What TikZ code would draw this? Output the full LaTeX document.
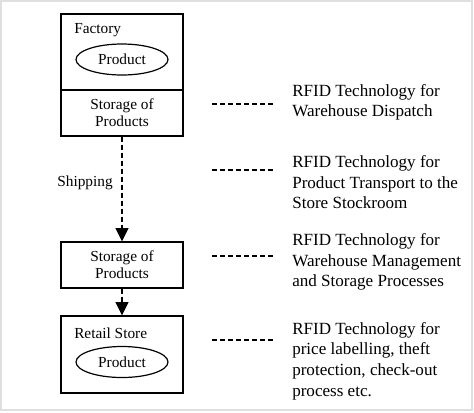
\documentclass[tikz,border=0pt]{standalone}
\usepackage{fontspec}
\setmainfont{Liberation Serif}
\usetikzlibrary{arrows.meta,shapes.geometric}
\tikzset{
  boxpart/.style={draw,line width=1pt,minimum width=91.5pt,inner sep=0pt,font=\fontsize{11.5}{12.8}\selectfont,align=center},
  prod/.style={draw,ellipse,line width=0.9pt,minimum width=69pt,minimum height=23.25pt,inner sep=0pt,font=\fontsize{11.5}{12.8}\selectfont},
  lbl/.style={inner sep=0pt,font=\fontsize{11.5}{12.8}\selectfont},
  rfid/.style={inner sep=0pt,anchor=west,align=left,font=\fontsize{12.8}{15.4}\selectfont},
  flow/.style={line width=1pt,dash pattern=on 4pt off 2pt,-{Triangle[width=9.75pt,length=10pt]}},
  link/.style={line width=0.8pt,dash pattern=on 4pt off 2pt}
}
\begin{document}
\begin{tikzpicture}[x=0.75pt,y=-0.75pt]
\useasboundingbox (0,0) rectangle (474,412);
\draw[gray!25,line width=1.5pt] (1,1) rectangle (471.5,410);
% left column
\node[boxpart,minimum height=57pt] (factory) at (122,52) {};
\node[boxpart,minimum height=34.5pt] (store1) at (122,113) {Storage of\\Products};
\node[lbl,anchor=west] (factlbl) at (74,30) {Factory};
\node[prod] (prod1) at (122,59.5) {Product};
\node[boxpart,minimum height=34.5pt] (store2) at (122,265) {Storage of\\Products};
\node[boxpart,minimum height=57.75pt] (retail) at (122,354.5) {};
\node[lbl,anchor=west] (retlbl) at (74,333) {Retail Store};
\node[prod] (prod2) at (122,362) {Product};
\node[lbl,anchor=east] (ship) at (113,183) {Shipping};
\draw[flow] (store1.south) -- (store2.north);
\draw[flow] (store2.south) -- (retail.north);
% right column
\node[rfid] (t1) at (292,102.5) {RFID Technology for\\Warehouse Dispatch};
\node[rfid] (t2) at (292,182.5) {RFID Technology for\\Product Transport to the\\Store Stockroom};
\node[rfid] (t3) at (292,262) {RFID Technology for\\Warehouse Management\\and Storage Processes};
\node[rfid] (t4) at (292,361) {RFID Technology for\\price labelling, theft\\protection, check-out\\process etc.};
\coordinate (a1) at (212,104); \coordinate (b1) at (275,104);
\coordinate (a2) at (212,170); \coordinate (b2) at (275,170);
\coordinate (a3) at (212,256); \coordinate (b3) at (275,256);
\coordinate (a4) at (212,340); \coordinate (b4) at (275,340);
\draw[link] (a1) -- (b1);
\draw[link] (a2) -- (b2);
\draw[link] (a3) -- (b3);
\draw[link] (a4) -- (b4);
\end{tikzpicture}
\end{document}
